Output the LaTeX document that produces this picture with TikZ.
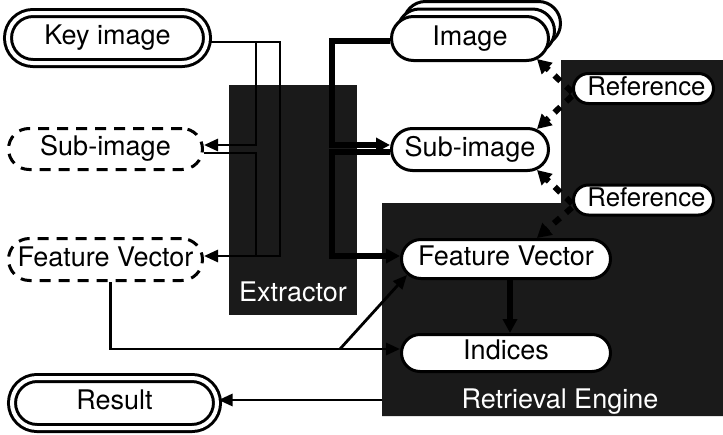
\documentclass[tikz,border=0pt]{standalone}
\usepackage{fontspec}
\newfontfamily\diagfamily{TeX Gyre Heros}
\usetikzlibrary{arrows.meta}
\definecolor{boxgray}{RGB}{26,26,26}
\newcommand{\diagfont}{\diagfamily\fontsize{13.5pt}{15pt}\selectfont}
\newcommand{\reffont}{\diagfamily\fontsize{12.9pt}{15pt}\selectfont}

\begin{document}
\begin{tikzpicture}[x=0.5pt, y=-0.5pt, >={Triangle[length=7pt, width=6pt]},
	pill/.style={
		% The shape:
		rectangle, rounded corners=#1/2,
		% The size:
		minimum height=#1, inner sep=0pt, text height=9.7pt, text depth=2.8pt,
		% The border
		line width=1.5pt, draw=black,
		% The filling
		fill=white, font=\diagfont},
	twin/.style={double, double distance=2pt},
	ghost/.style={dash pattern=on 5.5pt off 4pt},
	link/.style={line width=1.4pt},
	mainlink/.style={line width=2.8pt, -{Triangle[length=7pt, width=7pt]}},
	reflink/.style={line width=3pt, dash pattern=on 4pt off 4pt, -{Triangle[length=7pt, width=7.5pt]}},
	boxlabel/.style={text=white, font=\diagfont}]
    \useasboundingbox (0,0) rectangle (723,434);
    % the two dark boxes
    \fill [boxgray] (229,85) rectangle (357,315);
    \fill [boxgray] (561,60) -- (723,60) -- (723,416) -- (382,416) -- (382,203) -- (561,203) -- cycle;
    \node [boxlabel] (extractor) at (293,292) {Extractor};
    \node [boxlabel] (engine) at (560,402) {Retrieval Engine};
    % left column
    \node [pill=25pt, twin, minimum width=99.5pt] (keyimg) at (107.5,38) {Key image};
    \node [pill=20.5pt, ghost, minimum width=97pt] (subL) at (105.5,149) {Sub-image};
    \node [pill=21pt, ghost, minimum width=97pt] (fvL) at (105.5,259.5) {Feature Vector};
    \node [pill=25pt, twin, minimum width=102.5pt] (result) at (114.5,403) {Result};
    % stacked images
    \node [pill=22pt, minimum width=78.5pt] (imgC) at (482,23.5) {};
    \node [pill=22pt, minimum width=78.5pt] (imgB) at (476,31) {};
    \node [pill=22pt, minimum width=78.5pt] (img) at (470,38.5) {Image};
    \node [pill=21pt, minimum width=78.5pt] (subR) at (470,149.5) {Sub-image};
    \node [pill=19.5pt, minimum width=104.5pt] (fvR) at (506,259) {Feature Vector};
    \node [pill=18.5pt, minimum width=104.5pt] (idx) at (506,353) {Indices};
    \node [pill=15pt, minimum width=70pt, font=\reffont] (refA) at (643.5,88.5) {\hspace*{3pt}Reference};
    \node [pill=15pt, minimum width=70pt, font=\reffont] (refB) at (643.5,200) {\hspace*{3pt}Reference};
    % bends and forks
    \coordinate (keysplit) at (256,42);
    \coordinate (keyturn) at (280,42);
    \coordinate (subjoin) at (256,256);
    \coordinate (imgturn) at (332,41);
    \coordinate (imgdrop) at (332,200);
    \coordinate (fork) at (340,349);
    \coordinate (engW) at (382,400);
    % extractor, key side
    \draw [link, ->] (keyimg.east |- keysplit) -- (keyturn) |- ([yshift=1.75pt]fvL.east);
    \draw [link, ->] (keysplit) |- ([yshift=2pt]subL.east);
    \draw [link] ([yshift=-2pt]subL.east) -| (subjoin);
    % extractor, image side
    \draw [mainlink] (img.west |- imgturn) -- (imgturn) |- ([yshift=2.25pt]subR.west);
    \draw [mainlink] ([yshift=-1.25pt]subR.west) -| (imgdrop) |- ([yshift=1.5pt]fvR.west);
    % retrieval engine
    \draw [mainlink] ([xshift=2pt]fvR.south) -- ([xshift=2pt]idx.north);
    \draw [link, ->] ([xshift=2.5pt]fvL.south) |- ([yshift=2pt]idx.west);
    \draw [link, ->] (fork) -- ([shift={(7,-5)}]fvR.south west);
    \draw [link, ->] (engW) -- (result.east |- engW);
    % references
    \draw [reflink] ([yshift=-1.75pt]refA.west) -- ([shift={(-13,-3)}]img.south east);
    \draw [reflink] ([yshift=-3.75pt]refA.west) -- ([shift={(-13,2)}]subR.north east);
    \draw [reflink] ([yshift=-1.75pt]refB.west) -- ([shift={(-13,-2)}]subR.south east);
    \draw [reflink] ([yshift=-3.75pt]refB.west) -- ([xshift=15.5pt]fvR.north);
\end{tikzpicture}
\end{document}
